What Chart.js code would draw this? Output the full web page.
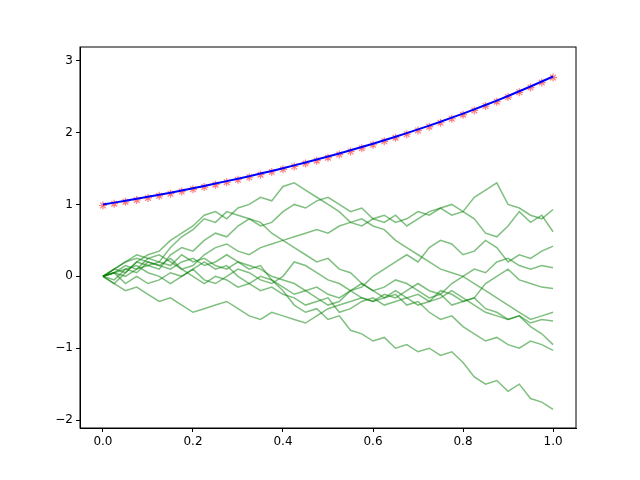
<!DOCTYPE html>
<html>
<head>
<meta charset="utf-8">
<script src="https://cdn.jsdelivr.net/npm/chart.js@4"></script>
<style>
  html, body { margin: 0; padding: 0; background: #fff; }
  #wrap { width: 640px; height: 480px; }
</style>
</head>
<body>
<div id="wrap"><canvas id="c" width="640" height="480"></canvas></div>
<script>
// x positions shared by every series (step 0.025)
const xs = [0,0.025,0.05,0.075,0.1,0.125,0.15,0.175,0.2,0.225,0.25,0.275,0.3,0.325,0.35,0.375,0.4,0.425,0.45,0.475,0.5,
            0.525,0.55,0.575,0.6,0.625,0.65,0.675,0.7,0.725,0.75,0.775,0.8,0.825,0.85,0.875,0.9,0.925,0.95,0.975,1.0];

// mean curve (blue line) and red star markers
const meanCurve = [1.00,1.025,1.051,1.078,1.106,1.135,1.164,1.194,1.225,1.257,1.29,1.324,1.358,1.393,1.429,1.466,1.504,1.543,1.583,1.624,1.666,
                   1.709,1.753,1.798,1.845,1.893,1.942,1.992,2.044,2.097,2.151,2.207,2.264,2.323,2.383,2.445,2.509,2.574,2.641,2.71,2.78];
const starCurve = [0.985,1.01,1.036,1.063,1.091,1.12,1.149,1.179,1.21,1.242,1.275,1.309,1.343,1.378,1.414,1.451,1.489,1.528,1.568,1.609,1.651,
                   1.694,1.738,1.783,1.83,1.878,1.927,1.977,2.029,2.082,2.136,2.192,2.249,2.308,2.368,2.43,2.494,2.559,2.626,2.695,2.765];

// simulated paths
const pathA = [0,0.1,0.05,0.2,0.3,0.35,0.5,0.6,0.7,0.85,0.9,0.8,0.95,1.0,1.1,1.05,1.25,1.3,1.2,1.1,1.0,0.9,0.75,0.7,0.8,0.75,0.85,0.7,0.8,0.9,0.95,0.85,0.9,0.8,0.6,0.55,0.7,0.9,0.75,0.85,0.62];
const pathB = [0,0.05,0.15,0.1,0.25,0.2,0.4,0.55,0.65,0.8,0.75,0.9,0.85,0.8,0.7,0.75,0.9,1.0,0.95,1.05,1.1,1.0,0.9,0.95,0.8,0.85,0.75,0.8,0.9,0.85,0.95,1.0,0.9,1.1,1.2,1.3,1.0,0.95,0.85,0.8,0.93];
const pathC = [0,-0.1,0.05,0.2,0.15,0.1,0.3,0.4,0.35,0.5,0.6,0.55,0.7,0.8,0.75,0.6,0.5,0.4,0.3,0.2,0.25,0.1,0.05,-0.1,-0.2,-0.3,-0.25,-0.4,-0.35,-0.5,-0.6,-0.55,-0.7,-0.8,-0.9,-0.85,-0.95,-1.0,-0.9,-0.95,-1.03];
const pathD = [0,0.1,0.2,0.3,0.25,0.3,0.2,0.1,0.15,0.3,0.4,0.45,0.35,0.3,0.4,0.45,0.5,0.55,0.6,0.65,0.6,0.7,0.75,0.8,0.7,0.65,0.5,0.4,0.3,0.2,0.1,0.05,0,-0.1,-0.2,-0.3,-0.4,-0.5,-0.6,-0.55,-0.5];
const pathE = [0,-0.05,0.1,0.15,0.05,0,-0.1,0,0.1,-0.05,-0.1,0,0.1,0.05,-0.05,-0.1,0,0.2,0.15,0.05,-0.05,-0.1,-0.2,-0.15,0,0.1,0.2,0.3,0.2,0.4,0.5,0.45,0.3,0.35,0.5,0.4,0.2,0.3,0.25,0.35,0.42];
const pathF = [0,0.1,0.2,0.25,0.2,0.15,0.25,0.1,0,-0.1,0,-0.05,-0.15,-0.1,0,-0.05,-0.15,-0.25,-0.2,-0.3,-0.4,-0.35,-0.2,-0.3,-0.35,-0.25,-0.3,-0.2,-0.1,-0.2,-0.25,-0.1,0,0.1,0.05,0.2,0.25,0.15,0.1,0.15,0.12];
const pathG = [0,0.05,-0.1,0,-0.1,-0.05,0.05,0,0.1,0.2,0.1,0.15,0,-0.1,-0.2,-0.15,-0.25,-0.3,-0.4,-0.35,-0.3,-0.5,-0.45,-0.35,-0.3,-0.4,-0.35,-0.3,-0.4,-0.35,-0.3,-0.2,-0.3,-0.4,-0.5,-0.55,-0.6,-0.55,-0.7,-0.8,-0.95];
const pathH = [0,-0.1,-0.2,-0.15,-0.25,-0.35,-0.3,-0.4,-0.5,-0.45,-0.4,-0.35,-0.45,-0.55,-0.6,-0.5,-0.55,-0.6,-0.65,-0.55,-0.45,-0.4,-0.35,-0.3,-0.35,-0.3,-0.2,-0.3,-0.25,-0.35,-0.2,-0.25,-0.35,-0.3,-0.45,-0.5,-0.6,-0.55,-0.65,-0.6,-0.62];
const pathI = [0,0.05,0.1,0.05,0.2,0.15,0.1,0.2,0.25,0.15,0.2,0.3,0.2,0.1,0.15,-0.05,-0.2,-0.4,-0.5,-0.45,-0.6,-0.55,-0.75,-0.8,-0.9,-0.85,-1.0,-0.95,-1.05,-1.0,-1.1,-1.05,-1.2,-1.4,-1.5,-1.45,-1.6,-1.5,-1.7,-1.75,-1.85];
const pathJ = [0,0.05,0,0.1,0.15,0.2,0.15,0.3,0.2,0.25,0.15,0.1,0.2,0.15,0.1,0,-0.05,-0.1,-0.2,-0.15,-0.25,-0.3,-0.2,-0.1,-0.2,-0.15,-0.05,-0.1,-0.2,-0.3,-0.25,-0.4,-0.35,-0.3,-0.1,0,0.1,-0.05,-0.1,-0.15,-0.17];
const paths = [pathA, pathB, pathC, pathD, pathE, pathF, pathG, pathH, pathI, pathJ];

const xTicks = [0, 0.2, 0.4, 0.6, 0.8, 1.0];
const yTicks = [-2, -1, 0, 1, 2, 3];

const pts = ys => ys.map((y, i) => ({ x: xs[i], y }));

const datasets = paths.map(p => ({
    data: pts(p),
    showLine: true,
    borderColor: 'rgba(0,128,0,0.5)',
    borderWidth: 1.5,
    pointRadius: 0,
}));
datasets.push({
    data: pts(meanCurve),
    showLine: true,
    borderColor: '#0000ff',
    borderWidth: 2,
    pointRadius: 0,
});
datasets.push({
    data: pts(starCurve),
    showLine: false,
    pointStyle: 'star',
    pointRadius: 4,
    borderColor: 'rgba(255,0,0,0.5)',
    borderWidth: 1.2,
});

const font = { family: 'DejaVu Sans', size: 12 };
const grid = {
    display: true, drawOnChartArea: false, drawTicks: true,
    tickLength: 4, tickColor: '#000', color: '#000',
};

new Chart(document.getElementById('c'), {
    type: 'scatter',
    data: { datasets },
    options: {
        responsive: false,
        animation: false,
        layout: { padding: { left: 0, top: 47, right: 64, bottom: 0 } },
        plugins: { legend: { display: false }, tooltip: { enabled: false } },
        scales: {
            x: {
                type: 'linear', min: -0.051, max: 1.051,
                afterBuildTicks: s => { s.ticks = xTicks.map(v => ({ value: v })); },
                afterFit: s => { s.height = 52; },
                ticks: { color: '#000', font, padding: 3, maxRotation: 0, callback: v => v.toFixed(1) },
                grid,
                border: { color: '#000', width: 1 },
            },
            y: {
                type: 'linear', min: -2.11, max: 3.19,
                afterBuildTicks: s => { s.ticks = yTicks.map(v => ({ value: v })); },
                afterFit: s => { s.width = 80; },
                ticks: { color: '#000', font, padding: 3, callback: v => v.toString().replace('-', '\u2212') },
                grid,
                border: { color: '#000', width: 1 },
            },
        },
    },
    plugins: [{
        id: 'frame',
        afterDraw(chart) {
            const { ctx, chartArea: a } = chart;
            ctx.save();
            ctx.strokeStyle = '#000';
            ctx.lineWidth = 1;
            ctx.strokeRect(a.left, a.top, a.right - a.left, a.bottom - a.top);
            ctx.restore();
        },
    }],
});
</script>
</body>
</html>
